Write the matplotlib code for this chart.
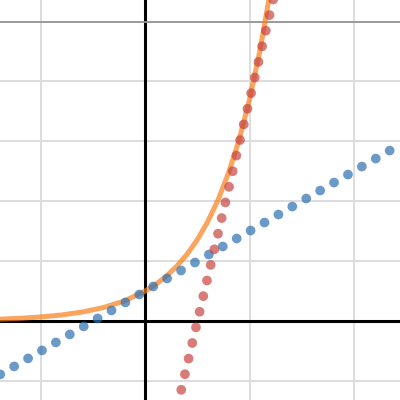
import matplotlib
matplotlib.use("Agg")
import matplotlib.pyplot as plt

# orange curve
curve_x = [-1.40, -1.20, -1.00, -0.80, -0.60, -0.40, -0.20, 0.00, 0.10, 0.20,
           0.30, 0.40, 0.50, 0.60, 0.70, 0.80, 0.90, 1.00, 1.10, 1.20]
curve_y = [0.030, 0.045, 0.068, 0.101, 0.151, 0.225, 0.335, 0.50, 0.61, 0.746,
           0.911, 1.113, 1.359, 1.66, 2.028, 2.477, 3.025, 3.695, 4.513, 5.51]

# blue dotted line (ends)
blue_x = [-1.392, 2.46]
blue_y = [-0.892, 2.96]

# red dotted line (ends)
red_x = [0.345, 1.245]
red_y = [-1.15, 5.50]

# gray horizontal line
hline_y = 5

xlim = (-1.394, 2.444)
ylim = (-1.319, 5.359)
grid_x = [-1, 1, 2]
grid_y = [-1, 1, 2, 3, 4, 5]

fig = plt.figure(figsize=(4, 4), dpi=100)
ax = fig.add_axes([0, 0, 1, 1])
ax.set_xlim(*xlim)
ax.set_ylim(*ylim)
ax.axis("off")

for gx in grid_x:
    ax.axvline(gx, color="#dddddd", lw=1.4, zorder=0)
for gy in grid_y:
    ax.axhline(gy, color="#dddddd", lw=1.4, zorder=0)
ax.axhline(0, color="black", lw=2.2, zorder=1)
ax.axvline(0, color="black", lw=2.2, zorder=1)

ax.axhline(hline_y, color="#969696", lw=1.3, zorder=2)

ax.plot(curve_x, curve_y, color="#fa7e19", alpha=0.7, lw=3.6,
        solid_capstyle="round", zorder=3)

dot_style = dict(alpha=0.7, lw=7, linestyle=(0, (0.01, 1.64)),
                 dash_capstyle="round")
ax.plot(blue_x, blue_y, color="#2d70b3", zorder=4, **dot_style)
ax.plot(red_x, red_y, color="#c74440", zorder=5, **dot_style)

fig.savefig("out.png", dpi=100)
